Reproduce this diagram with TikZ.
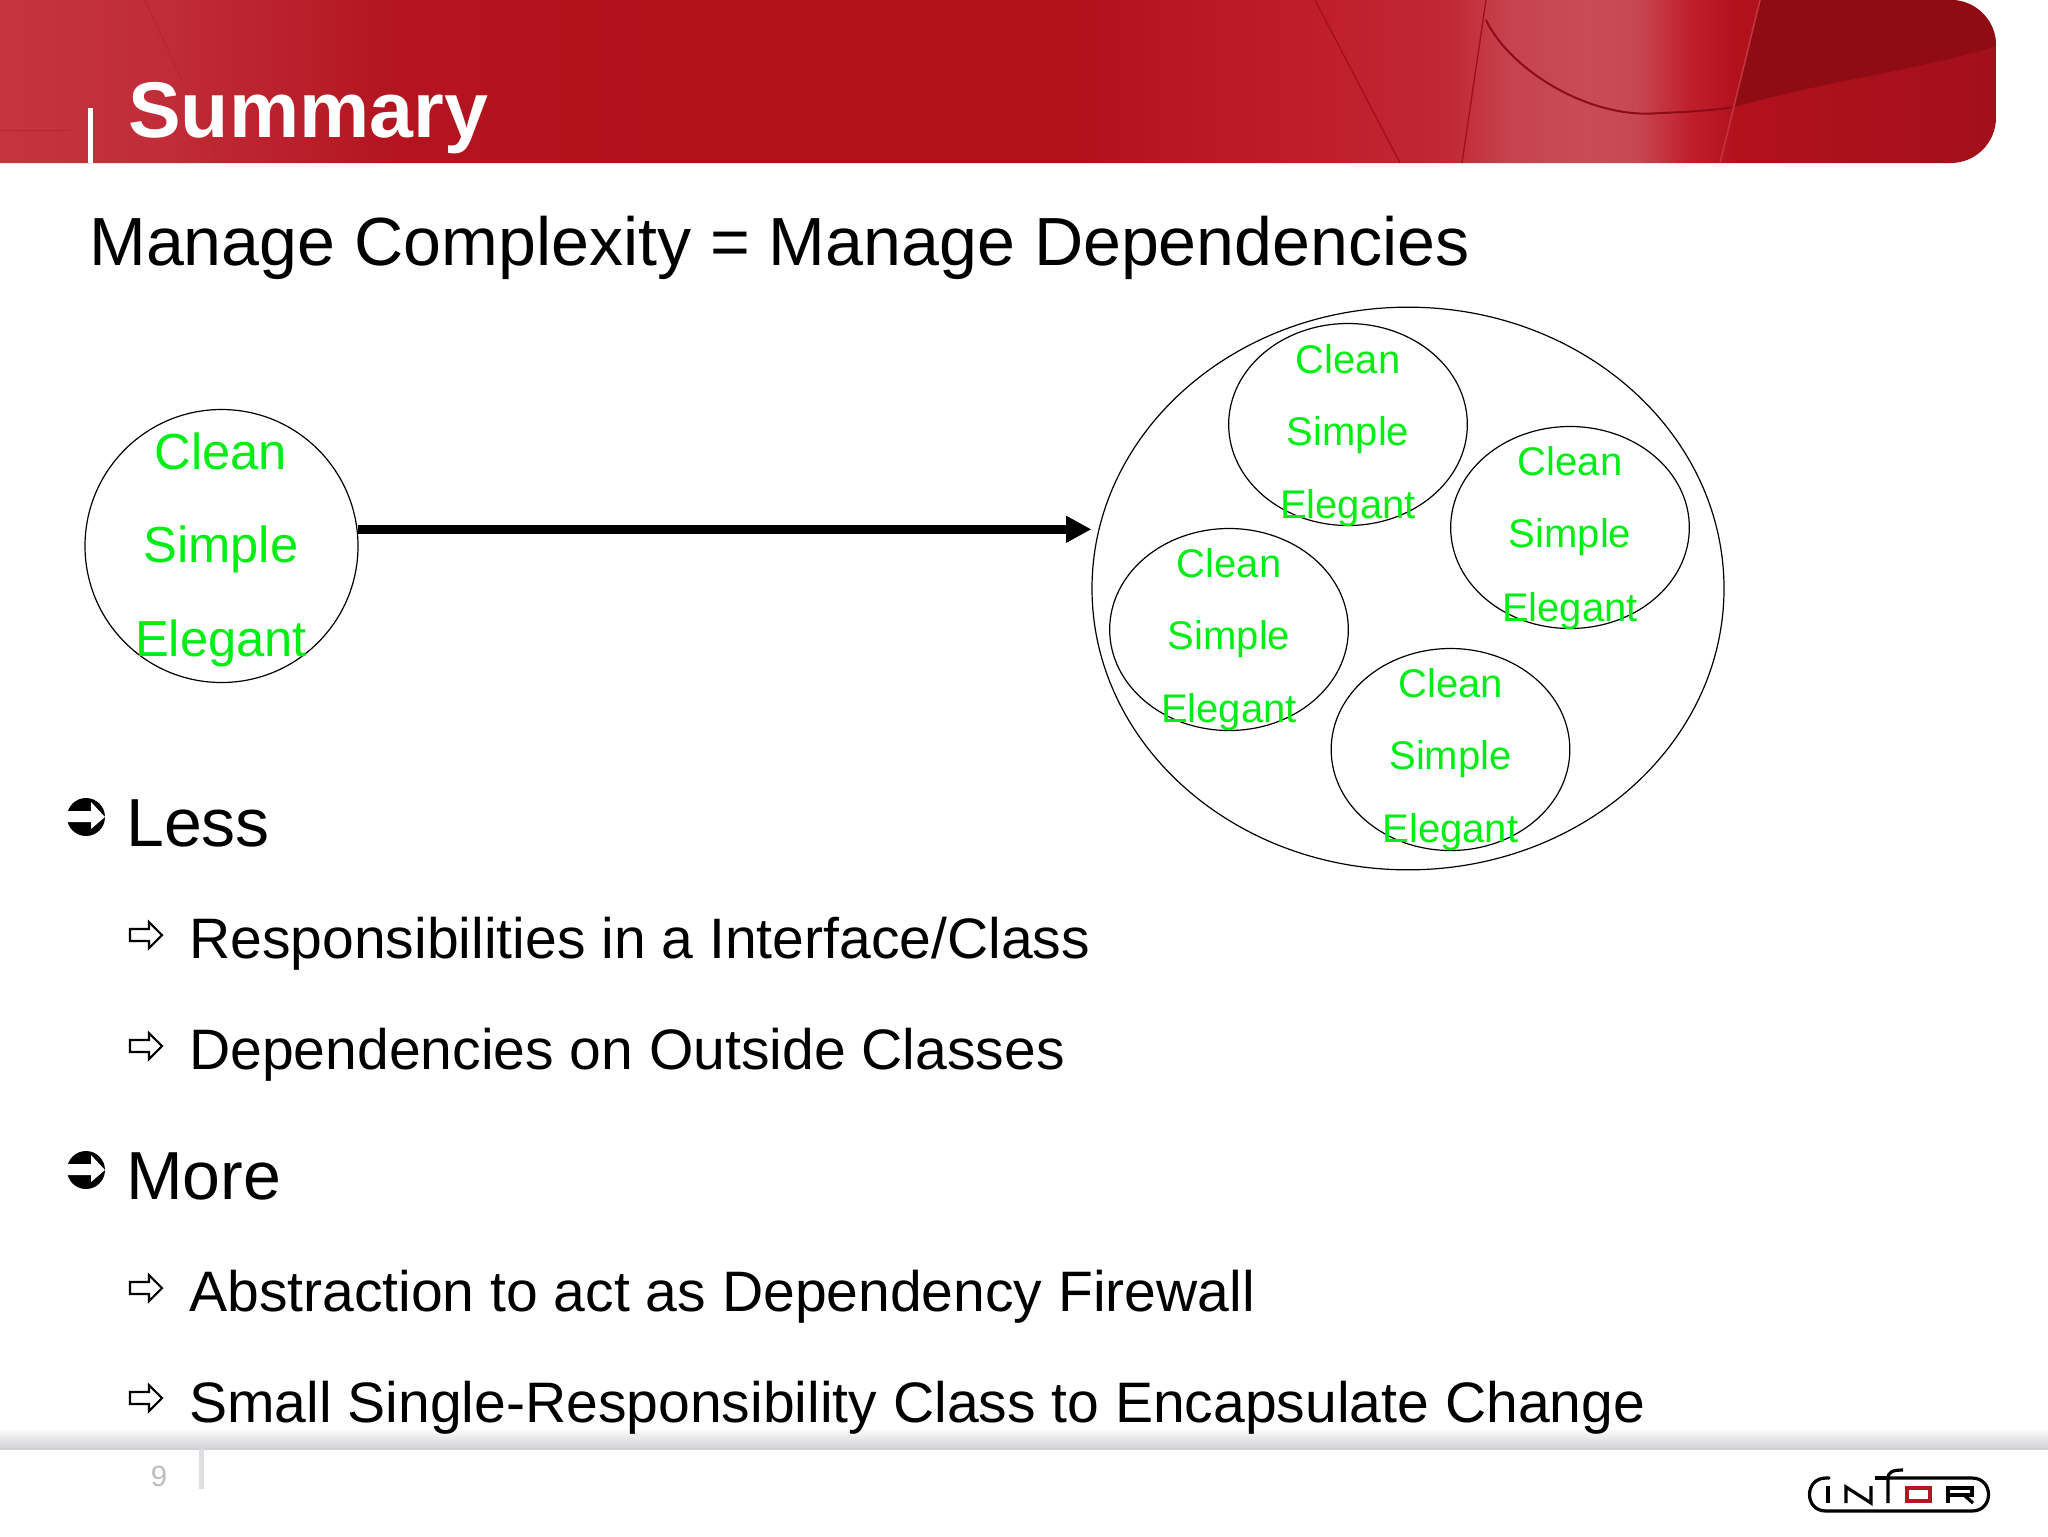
\documentclass[tikz,border=0pt]{standalone}
\usepackage{xcolor}
\usepackage{fontspec}
\setmainfont{Liberation Sans}
\usetikzlibrary{shapes.geometric,arrows.meta}

\definecolor{bandleft}{RGB}{196,52,63}
\definecolor{bandmid}{RGB}{178,17,28}
\definecolor{bandwarm}{RGB}{191,32,44}
\definecolor{bandglow}{RGB}{201,75,86}
\definecolor{bandright}{RGB}{163,16,26}
\definecolor{banddark}{RGB}{143,12,20}
\definecolor{bandline}{RGB}{165,14,28}
\definecolor{stackgreen}{RGB}{0,238,20}
\definecolor{footgrey}{RGB}{208,208,212}
\definecolor{pagegrey}{RGB}{188,188,188}
\definecolor{logored}{RGB}{178,24,36}

\pgfdeclarehorizontalshading{bandshade}{100bp}{color(0bp)=(bandleft); color(25bp)=(bandleft); color(29bp)=(bandleft!80!bandmid); color(35bp)=(bandmid!90!bandleft); color(42bp)=(bandmid); color(52bp)=(bandmid); color(55bp)=(bandmid!50!bandwarm); color(58.6bp)=(bandwarm); color(61.3bp)=(bandwarm!80!bandglow); color(62.8bp)=(bandglow!80!bandwarm); color(64.7bp)=(bandglow); color(66bp)=(bandglow!90!bandwarm); color(67.3bp)=(bandwarm); color(68.5bp)=(bandmid); color(75bp)=(bandright); color(100bp)=(bandright)}

\tikzset{
	fieldring/.style={draw,ellipse,inner sep=0pt,line width=0.9pt},
	smalltext/.style={anchor=base,inner sep=0pt,text=stackgreen,font=\fontsize{30}{36}\selectfont},
	largetext/.style={anchor=base,inner sep=0pt,text=stackgreen,font=\fontsize{38}{46}\selectfont},
	headtext/.style={anchor=base west,inner sep=0pt,font=\fontsize{51.1}{60}\selectfont},
	lesstext/.style={anchor=base west,inner sep=0pt,font=\fontsize{51}{60}\selectfont},
	subtext/.style={anchor=base west,inner sep=0pt,font=\fontsize{42.8}{50}\selectfont},
	bigbullet/.pic={
		\fill[black] (0,0) circle (19);
		\fill[white] (-19,-5) -- (5,-5) -- (5,-12) -- (19,0) -- (5,15) -- (5,6) -- (-19,6) -- cycle;
	},
	subbullet/.pic={
		\draw[line width=1.6pt,fill=white] (-16,-6) -- (3,-6) -- (3,-13) -- (16,0) -- (3,13) -- (3,6) -- (-16,6) -- cycle;
	},
}

\begin{document}
\begin{tikzpicture}[x=0.75pt,y=0.75pt,yscale=-1,xscale=1]
	\useasboundingbox (0,0) rectangle (2048,1536);
	
	%Shape: Title band
	\shade[shading=bandshade] (0,0) [rounded corners=34pt] -- (1996,0) -- (1996,163) [sharp corners] -- (0,163) -- cycle;
	\begin{scope}
	\clip (0,0) [rounded corners=34pt] -- (1996,0) -- (1996,163) [sharp corners] -- (0,163) -- cycle;
	%Shape: Dark corner of the band
	\fill[banddark] (1760,0) -- (1734,107) .. controls (1830,80) and (1920,70) .. (2000,45) -- (2000,0) -- cycle;
	%Straight Lines: Band creases
	\draw[bandline!85!black,line width=1.5pt] (1486,20) .. controls (1510,70) and (1590,120) .. (1660,113) .. controls (1690,112) and (1715,110) .. (1734,107);
	\draw[bandleft,line width=1.2pt] (1760,0) -- (1720,163);
	\draw[bandline,line width=1pt] (1315,0) -- (1400,163);
	\draw[bandline,line width=1pt] (1486,0) -- (1462,163);
	\draw[bandline!40!bandleft,line width=0.6pt] (145,0) -- (220,163);
	\draw[bandline!40!bandleft,line width=0.6pt] (0,130) -- (70,130);
	\end{scope}
	%Shape: White tick
	\fill[white] (88,108) rectangle (93,163);
	
	%Shape: Footer rule
	\shade[top color=white,bottom color=footgrey] (0,1428) rectangle (2048,1449);
	\fill[footgrey!70!white] (198.5,1449) rectangle (203.5,1489);
	
	% Text Node
	\node (title) [anchor=base west,inner sep=0pt,text=white,font=\fontsize{59.2}{70}\selectfont\bfseries] at (128,137) {Summary};
	% Text Node
	\node (headline) [headtext] at (89,265) {Manage Complexity = Manage Dependencies};
	
	%Shape: Single ellipse
	\node (single) [fieldring,minimum width=204.75pt,minimum height=204.75pt] at (221.5,546) {};
	\node (singleclean) [largetext] at (221,469) {Clean};
	\node (singlesimple) [largetext] at (221,562) {Simple};
	\node (singleelegant) [largetext] at (221,656) {Elegant};
	
	%Shape: Outer ellipse
	\node (outer) [fieldring,minimum width=474pt,minimum height=422pt] at (1408,588.5) {};
	
	%Shape: Top ellipse
	\node (topring) [fieldring,minimum width=179pt,minimum height=151.5pt] at (1348,424.5) {};
	\node (topclean) [smalltext] at (1348,373.5) {Clean};
	\node (topsimple) [smalltext] at (1348,445) {Simple};
	\node (topelegant) [smalltext] at (1348,518) {Elegant};
	%Shape: Right ellipse
	\node (rightring) [fieldring,minimum width=179pt,minimum height=151.5pt] at (1570,527.5) {};
	\node (rightclean) [smalltext] at (1570,475.5) {Clean};
	\node (rightsimple) [smalltext] at (1570,547) {Simple};
	\node (rightelegant) [smalltext] at (1570,621) {Elegant};
	%Shape: Left ellipse
	\node (leftring) [fieldring,minimum width=179pt,minimum height=151.5pt] at (1229,629.5) {};
	\node (leftclean) [smalltext] at (1229,577.5) {Clean};
	\node (leftsimple) [smalltext] at (1229,649) {Simple};
	\node (leftelegant) [smalltext] at (1229,722) {Elegant};
	%Shape: Bottom ellipse
	\node (bottomring) [fieldring,minimum width=179pt,minimum height=151.5pt] at (1450.5,749.5) {};
	\node (bottomclean) [smalltext] at (1450.5,697.5) {Clean};
	\node (bottomsimple) [smalltext] at (1450.5,769) {Simple};
	\node (bottomelegant) [smalltext] at (1450.5,842) {Elegant};
	
	%Straight Lines: Growth arrow
	\draw[line width=6.5pt,-{Triangle[length=19pt,width=19pt]}] (single.7) -- (single.7 -| outer.west);
	
	% Bullets and text
	\pic at (86,817) {bigbullet};
	\node (less) [lesstext] at (126,846) {Less};
	\pic at (146,935) {subbullet};
	\node (lessone) [subtext] at (189,958) {Responsibilities in a Interface/Class};
	\pic at (146,1046) {subbullet};
	\node (lesstwo) [subtext] at (189,1069) {Dependencies on Outside Classes};
	\pic at (86,1170) {bigbullet};
	\node (more) [lesstext] at (126,1199) {More};
	\pic at (146,1288) {subbullet};
	\node (moreone) [subtext] at (189,1311) {Abstraction to act as Dependency Firewall};
	\pic at (146,1398) {subbullet};
	\node (moretwo) [subtext] at (189,1422) {Small Single-Responsibility Class to Encapsulate Change};
	
	% Text Node
	\node (pagenum) [anchor=base,inner sep=0pt,text=pagegrey,font=\fontsize{22}{26}\selectfont] at (159,1486) {9};
	
	%Shape: Logo
	\draw[line width=2.4pt,line cap=round] (1829,1478) -- (1826,1478) .. controls (1804,1478) and (1804,1511) .. (1826,1511) -- (1972,1511) .. controls (1994,1511) and (1994,1478) .. (1972,1478) -- (1888,1478);
	\draw[line width=2.4pt] (1828,1486) -- (1828,1503);
	\draw[line width=2.4pt] (1846,1503) -- (1846,1487) -- (1871,1503) -- (1871,1486);
	\draw[line width=2.4pt] (1875,1478) -- (1888,1478);
	\draw[line width=2.4pt] (1888,1503) -- (1888,1479) .. controls (1888,1472) and (1892,1470) .. (1903,1470);
	\draw[logored,line width=3pt] (1907,1488) rectangle (1930,1501);
	\draw[line width=2.4pt] (1948,1503) -- (1948,1488) -- (1972,1488) -- (1972,1495) -- (1948,1495);
	\draw[line width=2.4pt] (1964,1495) -- (1973,1503);
	
	\end{tikzpicture}
\end{document}
